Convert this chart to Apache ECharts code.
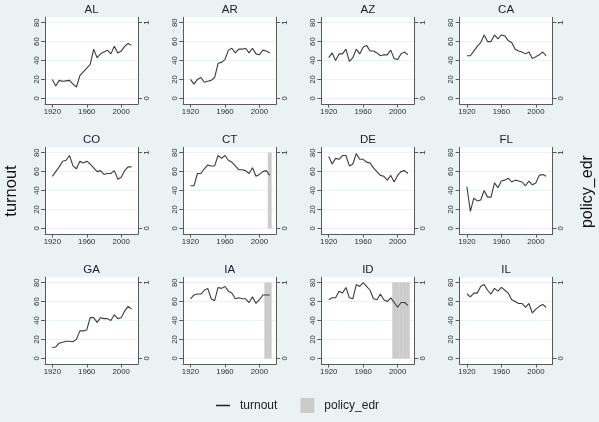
<!DOCTYPE html>
<html>
<head>
<meta charset="utf-8">
<script src="https://cdn.jsdelivr.net/npm/echarts@6/dist/echarts.min.js"></script>
<style>
html,body{margin:0;padding:0;background:#EAF2F3;}
#c{width:599px;height:422px;}
</style>
</head>
<body>
<div id="c"></div>
<script>
const years = [1920,1924,1928,1932,1936,1940,1944,1948,1952,1956,1960,1964,1968,1972,1976,1980,1984,1988,1992,1996,2000,2004,2008,2012];
const states = ['AL','AR','AZ','CA','CO','CT','DE','FL','GA','IA','ID','IL'];
const xTicks = [1920,1960,2000];
const yTicksLeft = [0,20,40,60,80];
const yTicksRight = [0,1];

const turnoutAL = [20,13,19,18,18.5,19,15,12,24,28,32,36,52,43,47,49,51,47,55,48,50,55,58,56];
const turnoutAR = [20,15,20,22,17,18,19,22,37,38,41,51,53,48,52,52,53,48,53,47,46,51,50,48];
const turnoutAZ = [43,48,40,47,47,52,39,43,52,47,54,56,50,50,48,45,46,46,51,42,41,47,49,46];
const turnoutCA = [45,45,50,55,59,67,60,60,67,63,67,66,61,59,52,50,49,47,49,42,44,46,49,45];
const turnoutCO = [55,60,65,71,72,77,66,63,71,69,71,68,64,60,61,57,58,58,61,52,54,61,65,65];
const turnoutCT = [45,45,58,58,63,67,66,66,77,74,77,72,70,66,62,62,61,58,64,55,57,60,61,56];
const turnoutDE = [76,68,74,73,77,77,66,68,79,73,73,70,69,64,60,56,55,51,56,49,56,60,61,58];
const turnoutFL = [44,18,32,29,30,40,33,33,48,43,50,51,53,49,51,50,49,45,50,46,48,56,57,55];
const turnoutGA = [11.5,12,16,17,18,18,17.5,20,29,29,30,43,43,38,43,42,42,40,46,42,43,50,55,52];
const turnoutIA = [63,67,68,68,72,74,63,61,75,74,76,71,69,63,64,63,63,59,65,58,62,67,67,67];
const turnoutID = [62,64,64,71,69,75,64,63,78,76,80,76,72,63,62,68,62,60,64,59,54,59,59,56];
const turnoutIL = [68,65,69,69,76,78,72,68,74,71,75,72,69,62,60,58,58,54,58,48,52,55,57,54];

// years in which policy_edr = 1
const edrAL = [], edrAR = [], edrAZ = [], edrCA = [], edrCO = [];
const edrCT = [2012];
const edrDE = [], edrFL = [], edrGA = [];
const edrIA = [2008,2012];
const edrID = [1996,2000,2004,2008,2012];
const edrIL = [];

const turnoutByState = {AL:turnoutAL,AR:turnoutAR,AZ:turnoutAZ,CA:turnoutCA,CO:turnoutCO,CT:turnoutCT,DE:turnoutDE,FL:turnoutFL,GA:turnoutGA,IA:turnoutIA,ID:turnoutID,IL:turnoutIL};
const edrByState = {AL:edrAL,AR:edrAR,AZ:edrAZ,CA:edrCA,CO:edrCO,CT:edrCT,DE:edrDE,FL:edrFL,GA:edrGA,IA:edrIA,ID:edrID,IL:edrIL};

const FONT = '"Liberation Sans", Arial, sans-serif';
const AXIS_COL = '#5a5a5a';
const LABEL_COL = '#2e2e2e';
const TICK_FS = 7.8;

const chart = echarts.init(document.getElementById('c'), null, {renderer:'canvas'});

const grids = [], xAxes = [], yAxes = [], series = [], titles = [];
const colLeft0 = 45, colStep = 138.2, pw = 93;
const rowTop0 = 17.3, rowStep = 130, ph = 86.7;
const plain = v => String(v);

states.forEach((st, i) => {
  const r = Math.floor(i / 4), c = i % 4;
  const left = colLeft0 + c * colStep, top = rowTop0 + r * rowStep;
  grids.push({left: left, top: top, width: pw, height: ph, show: true, backgroundColor: '#ffffff', borderWidth: 0, containLabel: false});
  titles.push({text: st, left: left + pw / 2, top: top - 13, padding: 0, textAlign: 'center',
    textStyle: {fontFamily: FONT, fontSize: 11.5, fontWeight: 'normal', color: '#1c1c2c'}});
  xAxes.push({type: 'value', gridIndex: i, min: 1911.5, max: 2019.5,
    axisLine: {show: true, onZero: false, lineStyle: {color: AXIS_COL, width: 1}},
    axisTick: {show: true, length: 3.5, customValues: xTicks, lineStyle: {color: AXIS_COL}},
    axisLabel: {customValues: xTicks, formatter: plain, fontFamily: FONT, fontSize: TICK_FS, color: LABEL_COL, margin: 4},
    splitLine: {show: false}});
  yAxes.push({type: 'value', gridIndex: i, position: 'left', min: -6, max: 85.7,
    axisLine: {show: true, onZero: false, lineStyle: {color: AXIS_COL, width: 1}},
    axisTick: {show: true, length: 4, customValues: yTicksLeft, lineStyle: {color: AXIS_COL}},
    axisLabel: {customValues: yTicksLeft, formatter: plain, rotate: 90, fontFamily: FONT, fontSize: TICK_FS, color: LABEL_COL, margin: 4.5},
    splitLine: {show: true, lineStyle: {color: '#EAF2F3', width: 1}}});
  yAxes.push({type: 'value', gridIndex: i, position: 'right', min: -0.075, max: 1.071,
    axisLine: {show: true, onZero: false, lineStyle: {color: AXIS_COL, width: 1}},
    axisTick: {show: true, length: 4, customValues: yTicksRight, lineStyle: {color: AXIS_COL}},
    axisLabel: {customValues: yTicksRight, formatter: plain, rotate: 90, fontFamily: FONT, fontSize: TICK_FS, color: LABEL_COL, margin: 4.5},
    splitLine: {show: false}});

  const edr = edrByState[st];
  series.push({
    name: 'policy_edr', type: 'custom', xAxisIndex: i, yAxisIndex: 2 * i + 1, z: 1,
    itemStyle: {color: '#cbcbcb'},
    data: edr.map(y => [y, 1]),
    renderItem: function (params, api) {
      const x = api.value(0), v = api.value(1);
      const p0 = api.coord([x - 2, 0]);
      const p1 = api.coord([x + 2, v]);
      return {type: 'rect',
        shape: {x: p0[0], y: p1[1], width: p1[0] - p0[0], height: p0[1] - p1[1]},
        style: {fill: '#cbcbcb', stroke: '#d3d3d3', lineWidth: 0.5}};
    }
  });
  const t = turnoutByState[st];
  series.push({
    name: 'turnout', type: 'line', xAxisIndex: i, yAxisIndex: 2 * i, z: 3,
    symbol: 'none', showSymbol: false, animation: false,
    lineStyle: {color: '#3c3c3c', width: 1.1},
    itemStyle: {color: '#3c3c3c'},
    data: years.map((y, k) => [y, t[k]])
  });
});

chart.setOption({
  animation: false,
  backgroundColor: '#EAF2F3',
  title: titles,
  grid: grids,
  xAxis: xAxes,
  yAxis: yAxes,
  series: series,
  legend: {
    left: 216, top: 398, padding: 0, itemWidth: 14, itemHeight: 15, itemGap: 23,
    data: [
      {name: 'turnout', icon: 'path://M0,0h0.01v0.01h-0.01zM0,6.7h14v1.6h-14zM13.99,14.99h0.01v0.01h-0.01z', itemStyle: {color: '#222'}},
      {name: 'policy_edr', icon: 'rect'}
    ],
    textStyle: {fontFamily: FONT, fontSize: 12, color: '#222', padding: [0, 0, 0, 5]}
  },
  graphic: [
    {type: 'text', x: 11.7, y: 191, rotation: Math.PI / 2,
      style: {text: 'turnout', font: '16.5px ' + FONT, fill: '#111', align: 'center', verticalAlign: 'middle'}},
    {type: 'text', x: 588, y: 191.6, rotation: Math.PI / 2,
      style: {text: 'policy_edr', font: '16px ' + FONT, fill: '#111', align: 'center', verticalAlign: 'middle'}}
  ]
});
</script>
</body>
</html>
